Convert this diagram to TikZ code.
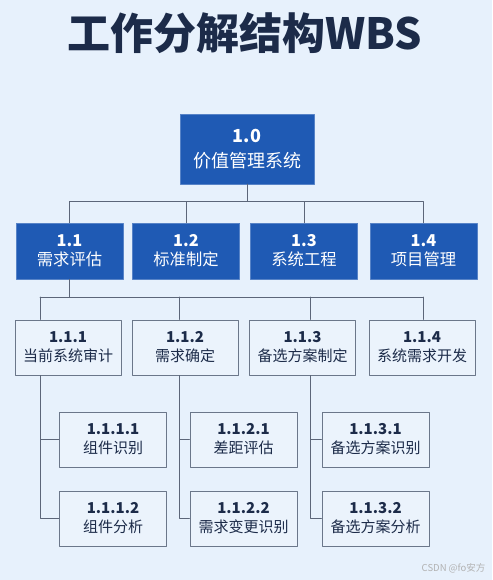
\documentclass[tikz,border=0pt]{standalone}
\usepackage{fontspec}
\setmainfont{Noto Sans CJK SC}

\definecolor{wbsblue}{HTML}{1F5AB4}
\definecolor{wbsbg}{HTML}{E7F1FC}
\definecolor{wbslight}{HTML}{EBF3FC}
\definecolor{wbsedge}{HTML}{6B778A}
\definecolor{wbsink}{HTML}{1C2B49}
\definecolor{wbsline}{HTML}{5C6679}

\begin{document}
\begin{tikzpicture}[
  x=1pt, y=-1pt, line cap=round, line join=round,
  topblk/.style={draw=wbsblue!75!white, line width=0.8pt, fill=wbsblue,
                 text=white, align=center, inner sep=0pt},
  lowblk/.style={draw=wbsedge, line width=1pt, fill=wbslight, text=wbsink,
                 align=center, inner sep=0pt, minimum width=106pt,
                 minimum height=55pt, font=\fontsize{15}{19}\selectfont},
  link/.style={draw=wbsline, line width=0.9pt}
]

  % ── Background and title ─────────────────────────────────────────────────

  \useasboundingbox (0,0) rectangle (492,580);
  \fill[wbsbg] (0,0) rectangle (492,580);

  \node[font=\fontsize{43}{43}\selectfont\bfseries, text=wbsink] (title)
      at (245,33) {工作分解结构WBS};

  % ── Level 0 and level 1 ─────────────────────────────────────────────────

  \node[topblk, minimum width=134pt, minimum height=70pt,
        font=\fontsize{18}{25}\selectfont] (n10) at (247,149)
      {\bfseries 1.0\\价值管理系统};

  \foreach \nm/\xc/\num/\txt in {n11/69.5/1.1/需求评估, n12/186/1.2/标准制定,
                                 n13/304/1.3/系统工程, n14/423.5/1.4/项目管理}
    \node[topblk, minimum width=107pt, minimum height=56pt,
          font=\fontsize{16.3}{19}\selectfont] (\nm) at (\xc,251)
        {\bfseries \num\\\txt};

  \coordinate (bus1) at (0,201);
  \foreach \nm in {n11,n12,n13,n14}
    \draw[link] (n10.south) -- (n10.south |- bus1) -| (\nm.north);

  % ── Level 2 ─────────────────────────────────────────────────────────────

  \node[lowblk] (n111) at (68,347.5)    {\bfseries 1.1.1\\当前系统审计};
  \node[lowblk] (n112) at (185,347.5)   {\bfseries 1.1.2\\需求确定};
  \node[lowblk] (n113) at (302.5,347.5) {\bfseries 1.1.3\\备选方案制定};
  \node[lowblk] (n114) at (422,347.5)   {\bfseries 1.1.4\\系统需求开发};

  % taps on the lower bus
  \coordinate (t111) at (40,297);
  \coordinate (t112) at (179,297);
  \coordinate (t113) at (310,297);
  \coordinate (t114) at (423,297);

  \draw[link] (n11.south) -- (n11.south |- t111);
  \draw[link] (t111) -- (t114);
  \foreach \tp/\nm in {t111/n111, t112/n112, t113/n113, t114/n114}
    \draw[link] (\tp) -- (\tp |- \nm.north);

  % ── Level 3 ─────────────────────────────────────────────────────────────

  \node[lowblk, minimum width=107pt] (n1111) at (113,439.5)   {\bfseries 1.1.1.1\\组件识别};
  \node[lowblk, minimum width=107pt] (n1112) at (113,518.5)   {\bfseries 1.1.1.2\\组件分析};
  \node[lowblk, minimum width=107pt] (n1121) at (243.5,439.5) {\bfseries 1.1.2.1\\差距评估};
  \node[lowblk, minimum width=107pt] (n1122) at (243.5,518.5) {\bfseries 1.1.2.2\\需求变更识别};
  \node[lowblk, minimum width=107pt] (n1131) at (375.5,439.5) {\bfseries 1.1.3.1\\备选方案识别};
  \node[lowblk, minimum width=107pt] (n1132) at (375.5,518.5) {\bfseries 1.1.3.2\\备选方案分析};

  \foreach \tp/\up/\kid in {t111/n111/n1111, t111/n111/n1112,
                            t112/n112/n1121, t112/n112/n1122,
                            t113/n113/n1131, t113/n113/n1132}
    \draw[link] (\tp |- \up.south) |- (\kid.west);

  % watermark
  \node[anchor=east, text=black!30, font=\fontsize{9.5}{10}\selectfont]
      (mark) at (489,568) {CSDN @fo安方};

\end{tikzpicture}
\end{document}
